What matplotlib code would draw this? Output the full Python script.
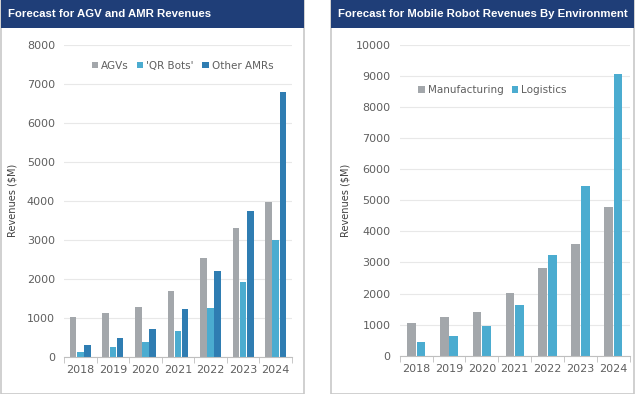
import numpy as np
import matplotlib.pyplot as plt
from matplotlib.patches import Rectangle

years = ['2018', '2019', '2020', '2021', '2022', '2023', '2024']

agvs = [1030, 1130, 1265, 1690, 2530, 3310, 3980]
qr_bots = [120, 240, 370, 660, 1240, 1905, 3000]
other_amrs = [290, 490, 710, 1230, 2190, 3735, 6800]

manufacturing = [1050, 1260, 1420, 2010, 2820, 3580, 4780]
logistics = [435, 640, 955, 1630, 3240, 5450, 9070]

GRAY = '#A3A7AB'
LIGHT_BLUE = '#4BACD0'
DARK_BLUE = '#2F7DB2'
NAVY = '#1F3E78'
TEXT = '#5F5F5F'

W, H = 636, 394
fig = plt.figure(figsize=(W / 100, H / 100), dpi=100)


def px_axes(x0, x1, ytop, ybot):
    return fig.add_axes([x0 / W, (H - ybot) / H, (x1 - x0) / W, (ybot - ytop) / H])


def panel(x0, x1, title):
    fig.patches.append(Rectangle((x0 / W, 0), (x1 - x0) / W, 1, transform=fig.transFigure,
                                 facecolor='white', edgecolor='#C8C8C8', lw=1.2, zorder=-2))
    fig.patches.append(Rectangle((x0 / W, (H - 28) / H), (x1 - x0) / W, 28 / H,
                                 transform=fig.transFigure, facecolor=NAVY, edgecolor='none', zorder=-1))
    fig.text((x0 + 7) / W, (H - 14) / H, title, color='white', fontsize=8.2,
             family='Liberation Sans', fontweight='bold', va='center', ha='left', zorder=2)


def style(ax, ymax, label_x):
    ax.set_xlim(-0.5, len(years) - 0.5)
    ax.set_ylim(0, ymax)
    ax.set_yticks(np.arange(0, ymax + 1, 1000))
    ax.yaxis.grid(True, color='#E8E8E8', lw=0.8)
    ax.set_axisbelow(True)
    for s in ['top', 'right', 'left']:
        ax.spines[s].set_visible(False)
    ax.spines['bottom'].set_color('#BFBFBF')
    ax.set_xticks(range(len(years)))
    ax.set_xticklabels(years)
    ax.set_xticks(np.arange(-0.5, len(years)), minor=True)
    ax.tick_params(axis='x', which='major', length=0, pad=6, labelsize=8, labelcolor=TEXT)
    ax.tick_params(axis='x', which='minor', length=4, color='#BFBFBF')
    ax.tick_params(axis='y', length=0, labelsize=8, labelcolor=TEXT, pad=6.5)
    ax.set_ylabel('Revenues ($M)', fontsize=7, color='#404040')
    ax.yaxis.set_label_coords(label_x, 0.5)
    ax.set_facecolor('none')


panel(1, 304, 'Forecast for AGV and AMR Revenues')
panel(331, 634, 'Forecast for Mobile Robot Revenues By Environment')

x = np.arange(len(years))

ax1 = px_axes(64, 292, 45, 356.7)
w = 0.22
ax1.bar(x - w, agvs, w * 0.92, color=GRAY, label='AGVs')
ax1.bar(x, qr_bots, w * 0.92, color=LIGHT_BLUE, label="'QR Bots'")
ax1.bar(x + w, other_amrs, w * 0.92, color=DARK_BLUE, label='Other AMRs')
style(ax1, 8000, -0.206)
ax1.legend(loc='upper left', bbox_to_anchor=(0.08, 0.98), ncol=3, frameon=False,
           fontsize=7.5, labelcolor=TEXT, handlelength=0.6, handleheight=0.6,
           handletextpad=0.3, columnspacing=0.8)

ax2 = px_axes(399.7, 629.7, 45, 355.7)
w2 = 0.29
ax2.bar(x - w2 / 2, manufacturing, w2 * 0.92, color=GRAY, label='Manufacturing')
ax2.bar(x + w2 / 2, logistics, w2 * 0.92, color=LIGHT_BLUE, label='Logistics')
style(ax2, 10000, -0.216)
ax2.legend(loc='upper left', bbox_to_anchor=(0.04, 0.90), ncol=2, frameon=False,
           fontsize=7.5, labelcolor=TEXT, handlelength=0.6, handleheight=0.6,
           handletextpad=0.3, columnspacing=0.8)

fig.savefig('out.png', dpi=100)
